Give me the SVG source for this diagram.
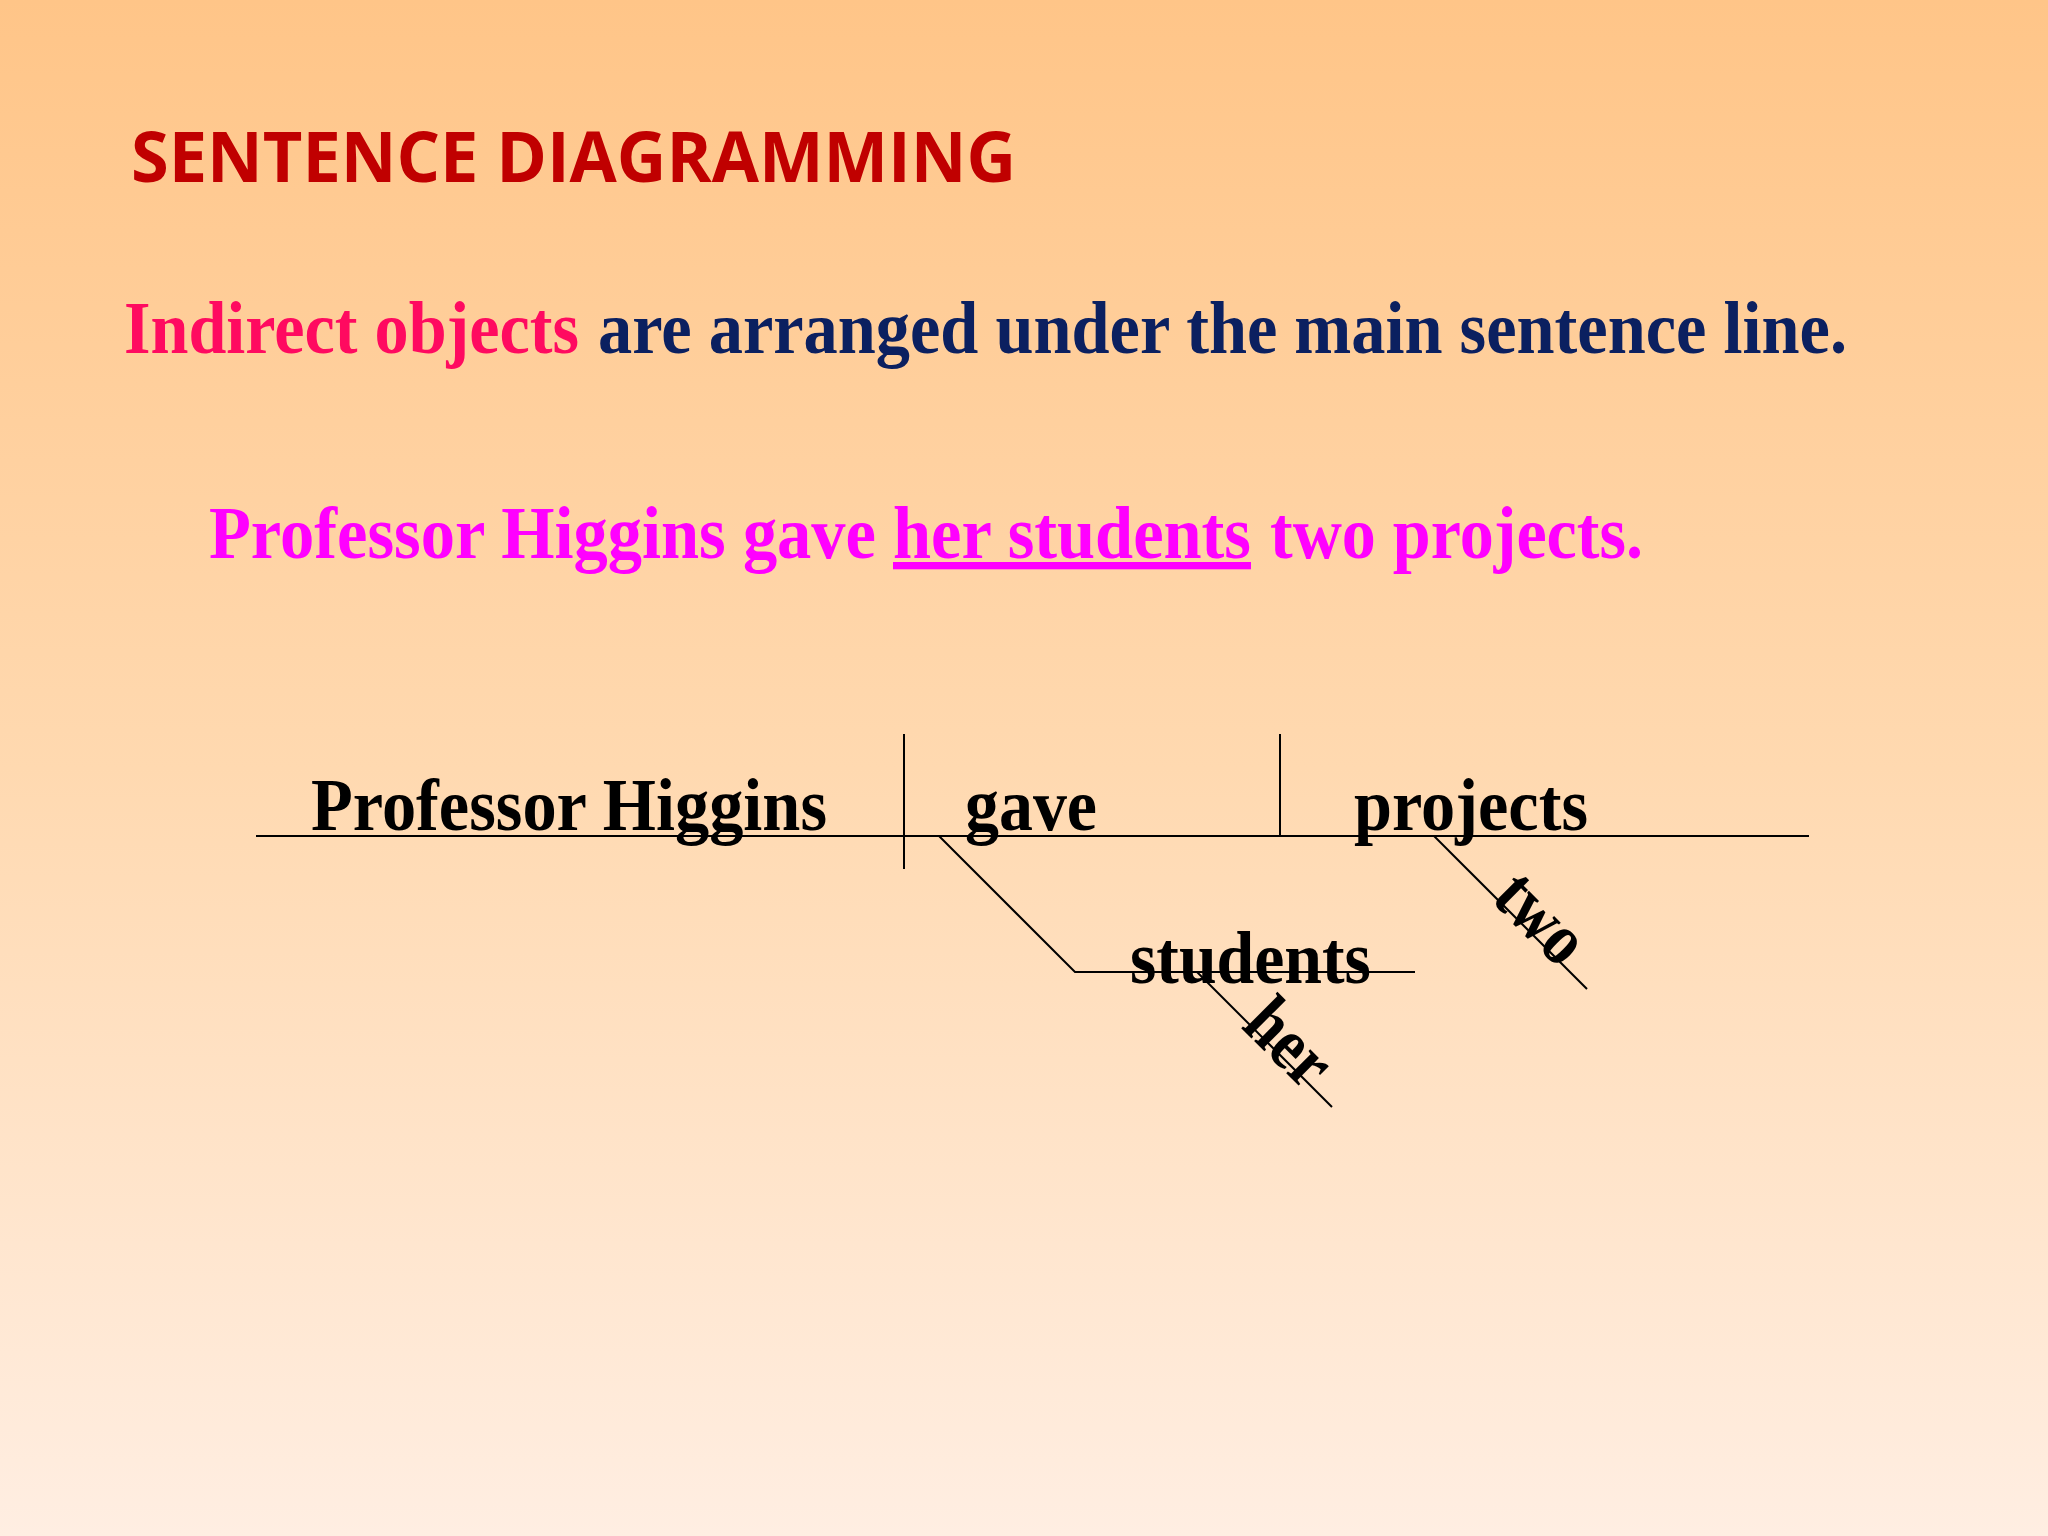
<svg xmlns="http://www.w3.org/2000/svg" width="2048" height="1536" viewBox="0 0 2048 1536">
  <defs>
    <linearGradient id="bg" x1="0" y1="0" x2="0" y2="1">
      <stop offset="0" stop-color="#FFC588"/>
      <stop offset="0.5" stop-color="#FFD9B0"/>
      <stop offset="1" stop-color="#FFEEE2"/>
    </linearGradient>
    <style>
      .serif { font-family: "Liberation Serif", "Times New Roman", serif; font-weight: bold; }
      .dia { font-size: 74px; fill: #000000; }
      .ln { stroke: #000000; stroke-width: 2; fill: none; }
    </style>
  </defs>
  <rect x="0" y="0" width="2048" height="1536" fill="url(#bg)"/>

  <g id="title">
    <text x="131" y="182" font-family="'Open Sans', 'Liberation Sans', sans-serif" font-weight="bold" font-size="70" fill="#C00000" textLength="885" lengthAdjust="spacingAndGlyphs">SENTENCE DIAGRAMMING</text>
  </g>

  <g id="rule">
    <text class="serif" x="124" y="353" font-size="73" fill="#FF0A60" textLength="455" lengthAdjust="spacingAndGlyphs">Indirect objects</text>
    <text class="serif" x="598" y="353" font-size="73" fill="#0B2060" textLength="1249" lengthAdjust="spacingAndGlyphs">are arranged under the main sentence line.</text>
  </g>

  <g id="sentence" fill="#FF00FF">
    <text class="serif" x="209" y="558" font-size="73" textLength="667" lengthAdjust="spacingAndGlyphs">Professor Higgins gave</text>
    <text class="serif" x="893" y="558" font-size="73" textLength="358" lengthAdjust="spacingAndGlyphs" text-decoration="underline">her students</text>
    <text class="serif" x="1270" y="558" font-size="73" textLength="373" lengthAdjust="spacingAndGlyphs">two projects.</text>
  </g>

  <g id="connectors">
    <line class="ln" x1="256" y1="836" x2="1809" y2="836"/>
    <line class="ln" x1="904" y1="734" x2="904" y2="869"/>
    <line class="ln" x1="1280" y1="734" x2="1280" y2="836"/>
    <polyline class="ln" points="939,836 1075,972 1415,972"/>
    <line class="ln" x1="1434" y1="836" x2="1587" y2="989"/>
    <line class="ln" x1="1197" y1="972" x2="1332" y2="1107"/>
  </g>

  <g id="node-subject">
    <text class="serif dia" x="311" y="830" textLength="516" lengthAdjust="spacingAndGlyphs">Professor Higgins</text>
  </g>
  <g id="node-verb">
    <text class="serif dia" x="965" y="830" textLength="132" lengthAdjust="spacingAndGlyphs">gave</text>
  </g>
  <g id="node-object">
    <text class="serif dia" x="1354" y="830" textLength="234" lengthAdjust="spacingAndGlyphs">projects</text>
  </g>
  <g id="node-indirect">
    <text class="serif dia" x="1130" y="983" textLength="241" lengthAdjust="spacingAndGlyphs">students</text>
  </g>
  <g id="node-two">
    <text class="serif dia" transform="translate(1490,900) rotate(45)" x="0" y="0" textLength="98" lengthAdjust="spacingAndGlyphs">two</text>
  </g>
  <g id="node-her">
    <text class="serif dia" transform="translate(1240,1027) rotate(45)" x="0" y="0" textLength="92" lengthAdjust="spacingAndGlyphs">her</text>
  </g>
</svg>
